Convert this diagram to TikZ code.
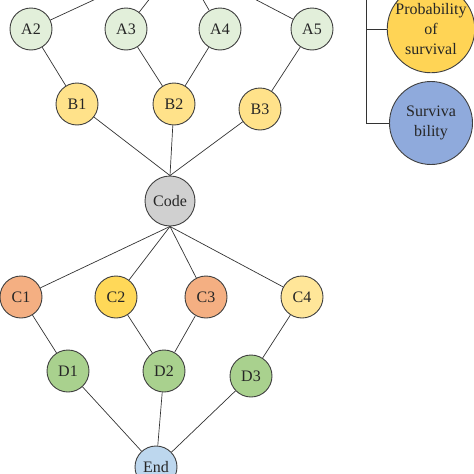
\documentclass[tikz,border=0pt]{standalone}
\usepackage{fontspec}
\setmainfont{Liberation Serif}
\usetikzlibrary{positioning}

\definecolor{agreen}{HTML}{E2EFDA}
\definecolor{byellow}{HTML}{FFE28A}
\definecolor{codegray}{HTML}{D0D0D0}
\definecolor{corange}{HTML}{F4AF82}
\definecolor{cyellow}{HTML}{FFD858}
\definecolor{clyellow}{HTML}{FFE699}
\definecolor{dgreen}{HTML}{A9D18E}
\definecolor{endblue}{HTML}{BDD7EE}
\definecolor{probgold}{HTML}{FFD455}
\definecolor{survblue}{HTML}{8FAADC}

\begin{document}
\begin{tikzpicture}[x=1pt, y=-1pt,
    font=\fontsize{16}{20}\selectfont,
    vtx/.style={circle, draw=black!75, line width=0.9pt,
                minimum size=42pt, inner sep=0pt, text=black!85},
    bigvtx/.style={vtx, minimum size=83pt, align=center},
    link/.style={draw=black!80, line width=0.7pt}]
  \useasboundingbox (0,0) rectangle (474,474);
  \clip (0,0) rectangle (474,474);

  % upper tree
  \coordinate (root) at (180,-40);
  \node[vtx, fill=agreen] (a2) at (31,29) {A2};
  \node[vtx, fill=agreen] (a3) at (126,29) {A3};
  \node[vtx, fill=agreen] (a4) at (220,29) {A4};
  \node[vtx, fill=agreen] (a5) at (312,29) {A5};
  \node[vtx, fill=byellow] (b1) at (77,104) {B1};
  \node[vtx, fill=byellow] (b2) at (174,104) {B2};
  \node[vtx, fill=byellow] (b3) at (260,109) {B3};
  \node[vtx, fill=codegray, minimum size=50pt] (code) at (170,201) {Code};

  % lower tree
  \node[vtx, fill=corange] (c1) at (21,297) {C1};
  \node[vtx, fill=cyellow] (c2) at (116,297) {C2};
  \node[vtx, fill=corange] (c3) at (206,297) {C3};
  \node[vtx, fill=clyellow] (c4) at (302,297) {C4};
  \node[vtx, fill=dgreen] (d1) at (68,371) {D1};
  \node[vtx, fill=dgreen] (d2) at (164,371) {D2};
  \node[vtx, fill=dgreen] (d3) at (251,376) {D3};
  \node[vtx, fill=endblue] (end) at (156,467) {End};

  % side legend
  \node[bigvtx, fill=probgold] (prob) at (431,29) {Probability\\of\\survival};
  \node[bigvtx, fill=survblue] (surv) at (431,123) {Surviva\\bility};
  \coordinate (brk) at (366,0);

  \foreach \n in {a2,a3,a4,a5}
    \path[link] (\n) -- (root);
  \path[link] (a2) -- (b1);
  \path[link] (a3) -- (b2);
  \path[link] (a4) -- (b2);
  \path[link] (a5) -- (b3);
  \foreach \n in {b1,b2,b3}
    \path[link] (\n) -- (code.north);
  \foreach \n in {c1,c2,c3,c4}
    \path[link] (code.south) -- (\n);
  \path[link] (c1) -- (d1);
  \path[link] (c2) -- (d2);
  \path[link] (c3) -- (d2);
  \path[link] (c4) -- (d3);
  \foreach \n in {d1,d2,d3}
    \path[link] (\n) -- (end);

  \path[link] (brk) |- (surv.west);
  \path[link] (brk |- prob.west) -- (prob.west);
\end{tikzpicture}
\end{document}
